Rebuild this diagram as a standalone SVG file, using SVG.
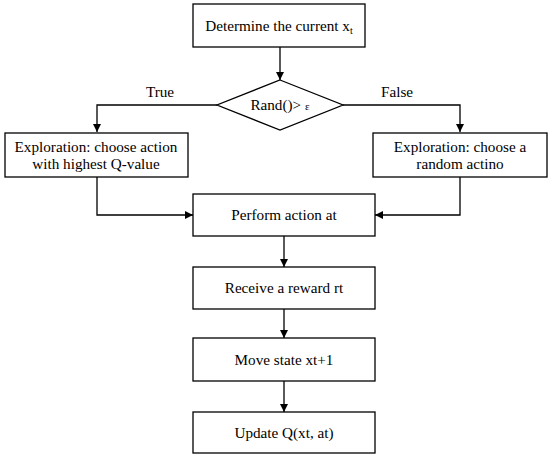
<svg xmlns="http://www.w3.org/2000/svg" width="550" height="458" viewBox="0 0 550 458">
<defs>
<marker id="ah" viewBox="0 0 10 10" refX="10" refY="5" markerWidth="8" markerHeight="8" markerUnits="userSpaceOnUse" orient="auto"><path d="M0,0 L10,5 L0,10 Z" fill="#000"/></marker>
<style>
.n{fill:#fff;stroke:#000;stroke-width:1.3}
.t{font-size:15.2px;fill:#000;text-anchor:middle}
.c{fill:none;stroke:#000;stroke-width:1.3;marker-end:url(#ah)}
</style>
</defs>
<rect width="550" height="458" fill="#fff"/>
<g id="connectors">
<path class="c" d="M280,47 V80"/>
<path class="c" d="M217,105 H97 V132"/>
<path class="c" d="M343,105 H460 V132"/>
<path class="c" d="M97,177 V215 H193"/>
<path class="c" d="M460,177 V215 H375"/>
<path class="c" d="M284,236 V267"/>
<path class="c" d="M284,309 V338"/>
<path class="c" d="M284,381 V412"/>
</g>
<g font-family="Liberation Serif, serif">
<g id="n_start"><rect class="n" x="193" y="4" width="172" height="43"/><text class="t" x="279" y="31">Determine the current x<tspan font-size="10" dy="3">t</tspan></text></g>
<g id="n_decision"><path class="n" d="M280,80 L343,105 L280,130 L217,105 Z"/><text class="t" x="280" y="110">Rand()&gt; <tspan font-size="11">ε</tspan></text></g>
<g id="l_true"><text class="t" x="160" y="97">True</text></g>
<g id="l_false"><text class="t" x="397" y="97">False</text></g>
<g id="n_left"><rect class="n" x="5" y="133" width="183" height="44"/><text class="t" x="96" y="152">Exploration: choose action</text><text class="t" x="96" y="169">with highest Q-value</text></g>
<g id="n_right"><rect class="n" x="373" y="133" width="174" height="44"/><text class="t" x="460" y="152">Exploration: choose a</text><text class="t" x="460" y="169">random actino</text></g>
<g id="n_perform"><rect class="n" x="193" y="194" width="182" height="42"/><text class="t" x="284" y="220">Perform action at</text></g>
<g id="n_receive"><rect class="n" x="193" y="267" width="182" height="42"/><text class="t" x="284" y="293">Receive a reward rt</text></g>
<g id="n_move"><rect class="n" x="193" y="338" width="182" height="43"/><text class="t" x="284" y="365">Move state xt+1</text></g>
<g id="n_update"><rect class="n" x="193" y="412" width="182" height="41"/><text class="t" x="284" y="438">Update Q(xt, at)</text></g>
</g>
</svg>
